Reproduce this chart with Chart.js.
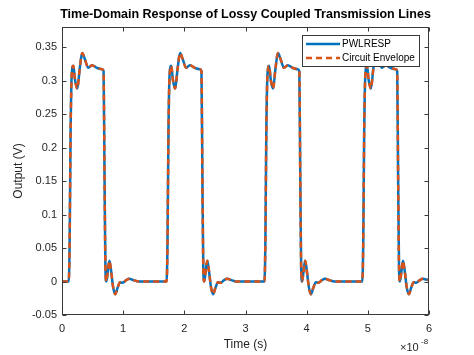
<!DOCTYPE html>
<html><head><meta charset="utf-8">
<script src="https://cdn.jsdelivr.net/npm/chart.js@4/dist/chart.umd.min.js"></script>
<style>html,body{margin:0;padding:0;background:#fff}</style>
</head><body>
<canvas id="c" width="474" height="355"></canvas>
<script>
const chartTitle = 'Time-Domain Response of Lossy Coupled Transmission Lines';
const xAxisLabel = 'Time (s)';
const yAxisLabel = 'Output (V)';
const xExponent = '-8';
const seriesLabels = ['PWLRESP', 'Circuit Envelope'];
const timeTicks = [0, 1, 2, 3, 4, 5, 6];
const outputTicks = [-0.05, 0, 0.05, 0.1, 0.15, 0.2, 0.25, 0.3, 0.35];

// time in units of 1e-8 s
const time = [
  0, 0.11, 0.125, 0.14, 0.16, 0.185, 0.215, 0.25, 0.29, 0.33, 0.37, 0.43, 0.49, 0.57, 0.655, 0.68, 0.695, 0.71, 0.725, 0.745, 0.775, 0.80, 0.835, 0.87, 0.91, 0.95, 0.99, 1.05, 1.10, 1.17, 1.25,
  1.71, 1.725, 1.74, 1.76, 1.785, 1.815, 1.85, 1.89, 1.93, 1.97, 2.03, 2.09, 2.17, 2.255, 2.28, 2.295, 2.31, 2.325, 2.345, 2.375, 2.40, 2.435, 2.47, 2.51, 2.55, 2.59, 2.65, 2.70, 2.77, 2.85,
  3.31, 3.325, 3.34, 3.36, 3.385, 3.415, 3.45, 3.49, 3.53, 3.57, 3.63, 3.69, 3.77, 3.855, 3.88, 3.895, 3.91, 3.925, 3.945, 3.975, 4.00, 4.035, 4.07, 4.11, 4.15, 4.19, 4.25, 4.30, 4.37, 4.45,
  4.91, 4.925, 4.94, 4.96, 4.985, 5.015, 5.05, 5.09, 5.13, 5.17, 5.23, 5.29, 5.37, 5.455, 5.48, 5.495, 5.51, 5.525, 5.545, 5.575, 5.60, 5.635, 5.67, 5.71, 5.75, 5.79, 5.85, 5.90, 5.95, 6.0
];
const pwlresp = [
  0, 0, 0.06, 0.22, 0.31, 0.322, 0.300, 0.288, 0.318, 0.341, 0.333, 0.319, 0.323, 0.319, 0.317, 0.314, 0.16, 0.02, 0.0, 0.012, 0.031, 0.018, -0.008, -0.019, -0.009, -0.001, -0.002, 0.002, 0.004, 0.002, 0.0,
  0, 0.06, 0.22, 0.31, 0.322, 0.300, 0.288, 0.318, 0.341, 0.333, 0.319, 0.323, 0.319, 0.317, 0.314, 0.16, 0.02, 0.0, 0.012, 0.031, 0.018, -0.008, -0.019, -0.009, -0.001, -0.002, 0.002, 0.004, 0.002, 0.0,
  0, 0.06, 0.22, 0.31, 0.322, 0.300, 0.288, 0.318, 0.341, 0.333, 0.319, 0.323, 0.319, 0.317, 0.314, 0.16, 0.02, 0.0, 0.012, 0.031, 0.018, -0.008, -0.019, -0.009, -0.001, -0.002, 0.002, 0.004, 0.002, 0.0,
  0, 0.06, 0.22, 0.31, 0.322, 0.300, 0.288, 0.318, 0.341, 0.333, 0.319, 0.323, 0.319, 0.317, 0.314, 0.16, 0.02, 0.0, 0.012, 0.031, 0.018, -0.008, -0.019, -0.009, -0.001, -0.002, 0.002, 0.004, 0.003, 0.002
];
const circuitEnvelope = [
  0, 0, 0.06, 0.22, 0.31, 0.322, 0.300, 0.288, 0.318, 0.341, 0.333, 0.319, 0.323, 0.319, 0.317, 0.314, 0.16, 0.02, 0.0, 0.012, 0.031, 0.018, -0.008, -0.019, -0.009, -0.001, -0.002, 0.002, 0.004, 0.002, 0.0,
  0, 0.06, 0.22, 0.31, 0.322, 0.300, 0.288, 0.318, 0.341, 0.333, 0.319, 0.323, 0.319, 0.317, 0.314, 0.16, 0.02, 0.0, 0.012, 0.031, 0.018, -0.008, -0.019, -0.009, -0.001, -0.002, 0.002, 0.004, 0.002, 0.0,
  0, 0.06, 0.22, 0.31, 0.322, 0.300, 0.288, 0.318, 0.341, 0.333, 0.319, 0.323, 0.319, 0.317, 0.314, 0.16, 0.02, 0.0, 0.012, 0.031, 0.018, -0.008, -0.019, -0.009, -0.001, -0.002, 0.002, 0.004, 0.002, 0.0,
  0, 0.06, 0.22, 0.31, 0.322, 0.300, 0.288, 0.318, 0.341, 0.333, 0.319, 0.323, 0.319, 0.317, 0.314, 0.16, 0.02, 0.0, 0.012, 0.031, 0.018, -0.008, -0.019, -0.009, -0.001, -0.002, 0.002, 0.004, 0.003, 0.002
];

const FONT = '"Liberation Sans", Arial, Helvetica, sans-serif';
const TXT = '#262626';
const AXC = '#3a3a3a';

const fmt = v => parseFloat(Number(v).toFixed(2)).toString();

const matlabPlugin = {
  id: 'matlab',
  afterDraw(chart) {
    const ctx = chart.ctx;
    const ca = chart.chartArea;
    const xs = chart.scales.x, ys = chart.scales.y;
    ctx.save();
    // box
    ctx.strokeStyle = AXC;
    ctx.lineWidth = 1;
    const L = Math.round(ca.left) + 0.5, R = Math.round(ca.right) - 0.5;
    const T = Math.round(ca.top) + 0.5, B = Math.round(ca.bottom) - 0.5;
    ctx.strokeRect(L, T, R - L, B - T);
    const tl = 4;
    ctx.beginPath();
    timeTicks.forEach(v => {
      const px = Math.round(xs.getPixelForValue(v)) + 0.5;
      ctx.moveTo(px, B); ctx.lineTo(px, B - tl);
      ctx.moveTo(px, T); ctx.lineTo(px, T + tl);
    });
    outputTicks.forEach(v => {
      const py = Math.round(ys.getPixelForValue(v)) + 0.5;
      ctx.moveTo(L, py); ctx.lineTo(L + tl, py);
      ctx.moveTo(R, py); ctx.lineTo(R - tl, py);
    });
    ctx.stroke();

    // title
    ctx.fillStyle = '#000';
    ctx.font = 'bold 12.5px ' + FONT;
    ctx.textAlign = 'center';
    ctx.textBaseline = 'middle';
    ctx.fillText(chartTitle, (ca.left + ca.right) / 2, 15);

    // axis labels
    ctx.fillStyle = TXT;
    ctx.font = '12px ' + FONT;
    ctx.fillText(xAxisLabel, (ca.left + ca.right) / 2, 345);
    ctx.save();
    ctx.translate(19, (ca.top + ca.bottom) / 2);
    ctx.rotate(-Math.PI / 2);
    ctx.fillText(yAxisLabel, 0, 0);
    ctx.restore();

    // exponent
    ctx.textAlign = 'left';
    ctx.font = '11px ' + FONT;
    ctx.fillText('\u00d710', 400, 348);
    ctx.font = '8px ' + FONT;
    ctx.fillText(xExponent, 421, 342);

    // legend
    const lx = 302, ly = 35, lw = 117, lh = 31;
    ctx.fillStyle = '#fff';
    ctx.fillRect(lx, ly, lw, lh);
    ctx.strokeStyle = AXC;
    ctx.lineWidth = 1;
    ctx.strokeRect(lx + 0.5, ly + 0.5, lw, lh);
    chart.data.datasets.forEach((ds, i) => {
      const y = ly + 9 + i * 14;
      ctx.save();
      ctx.strokeStyle = ds.borderColor;
      ctx.lineWidth = ds.borderWidth;
      ctx.setLineDash(ds.borderDash || []);
      ctx.beginPath();
      ctx.moveTo(lx + 4, y); ctx.lineTo(lx + 38, y);
      ctx.stroke();
      ctx.restore();
      ctx.fillStyle = '#000';
      ctx.font = '10px ' + FONT;
      ctx.textAlign = 'left';
      ctx.textBaseline = 'middle';
      ctx.fillText(ds.label, lx + 40, y + 0.5);
    });
    ctx.restore();
  }
};

const toPts = arr => time.map((t, i) => ({ x: t, y: arr[i] }));

new Chart(document.getElementById('c'), {
  type: 'line',
  data: {
    datasets: [
      { label: seriesLabels[0], data: toPts(pwlresp), borderColor: '#0072BD', borderWidth: 2.5,
        pointRadius: 0, fill: false, cubicInterpolationMode: 'monotone', order: 2 },
      { label: seriesLabels[1], data: toPts(circuitEnvelope), borderColor: '#D95319', borderWidth: 2.5,
        borderDash: [6, 4], pointRadius: 0, fill: false, cubicInterpolationMode: 'monotone', order: 1 }
    ]
  },
  options: {
    responsive: false,
    devicePixelRatio: 1,
    animation: false,
    layout: { padding: { left: 0, right: 45, top: 27, bottom: 0 } },
    plugins: { legend: { display: false }, title: { display: false }, tooltip: { enabled: false } },
    scales: {
      x: {
        type: 'linear', min: 0, max: 6,
        afterBuildTicks: s => { s.ticks = timeTicks.map(v => ({ value: v })); },
        afterFit: s => { s.height = 40; },
        grid: { display: false, drawTicks: false },
        border: { display: false },
        ticks: { color: TXT, font: { family: FONT, size: 11 }, padding: 7, maxRotation: 0, autoSkip: false, callback: v => fmt(v) }
      },
      y: {
        type: 'linear', min: -0.05, max: 0.38,
        afterBuildTicks: s => { s.ticks = outputTicks.map(v => ({ value: v })); },
        afterFit: s => { s.width = 62; },
        grid: { display: false, drawTicks: false },
        border: { display: false },
        ticks: { color: TXT, font: { family: FONT, size: 11 }, padding: 5, autoSkip: false, callback: v => fmt(v) }
      }
    }
  },
  plugins: [matlabPlugin]
});
</script>
</body></html>
